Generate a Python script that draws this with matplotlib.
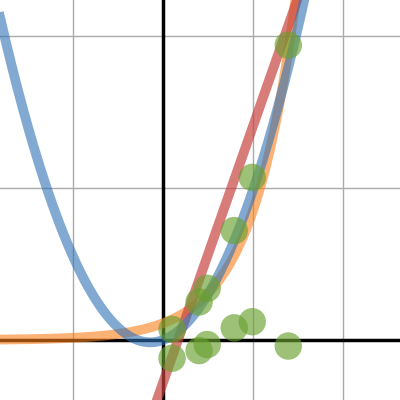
import numpy as np
import matplotlib.pyplot as plt

# scatter points
xs = [1.39, 0.99, 0.79, 0.49, 0.40, 0.10, 0.10, 0.40, 0.49, 0.79, 0.99, 1.39]
ys = [1.94, 1.07, 0.72, 0.34, 0.25, 0.07, -0.12, -0.07, -0.03, 0.08, 0.12, -0.04]

# fitted curve coefficients
exp_coef = [0.11, 2.05]          # a * exp(b x)
lin_coef = [1.69, -0.28]        # slope, intercept
poly_coef = [0.0, 0.77, 0.22, 0.0]  # cubic, quadratic, linear, const

fig = plt.figure(figsize=(4, 4), dpi=100)
ax = fig.add_axes([0, 0, 1, 1])
xmin, xmax = -1.81, 2.63
ymin, ymax = -0.395, 2.237
ax.set_xlim(xmin, xmax)
ax.set_ylim(ymin, ymax)

for gx in [-1, 1, 2]:
    ax.axvline(gx, color='#aaaaaa', lw=1, zorder=0)
for gy in [1, 2]:
    ax.axhline(gy, color='#aaaaaa', lw=1, zorder=0)
ax.axvline(0, color='black', lw=2.5, zorder=1)
ax.axhline(0, color='black', lw=2.5, zorder=1)

t = np.linspace(xmin, xmax, 600)
ax.plot(t, exp_coef[0] * np.exp(exp_coef[1] * t), color='#fa7e19', lw=7, alpha=0.6, zorder=2)
ax.plot(t, lin_coef[0] * t + lin_coef[1], color='#c74440', lw=7, alpha=0.7, zorder=3)
ax.plot(t, np.polyval(poly_coef, t), color='#2d70b3', lw=7, alpha=0.6, zorder=4)
ax.scatter(xs, ys, s=390, color='#6aa030', alpha=0.65, edgecolors='none', zorder=5)

ax.set_xticks([])
ax.set_yticks([])
for s in ax.spines.values():
    s.set_visible(False)

fig.savefig('out.png')
